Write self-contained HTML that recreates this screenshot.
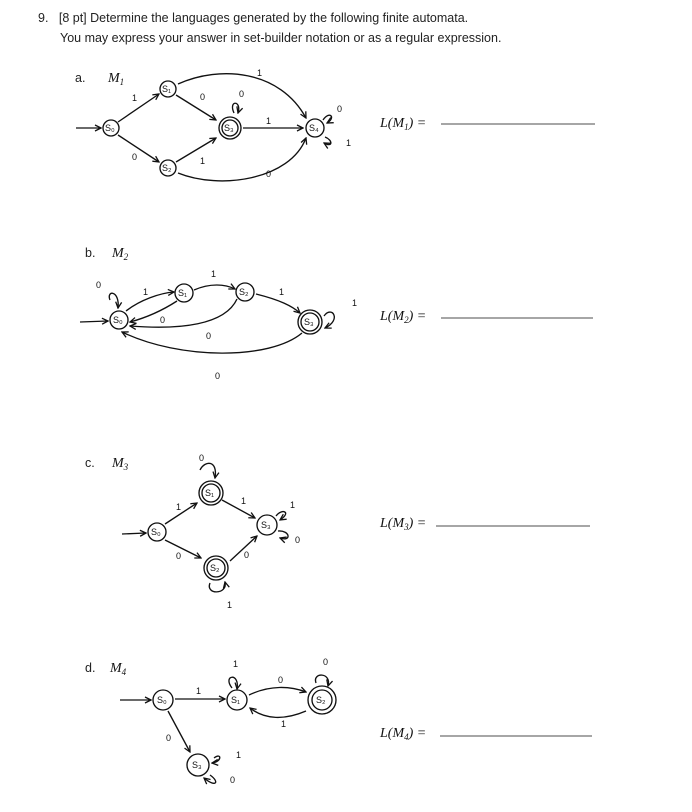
<!DOCTYPE html>
<html><head><meta charset="utf-8"><style>
body{margin:0;background:#fff;width:692px;height:812px;overflow:hidden}
svg{position:absolute;left:0;top:0}
.t{font-family:"Liberation Sans",sans-serif;font-size:12.5px;fill:#222}
.m{font-family:"Liberation Serif",serif;font-style:italic;font-size:14px;fill:#111}
.h{font-family:"Liberation Sans",sans-serif;font-size:9px;fill:#111}
.l{font-family:"Liberation Sans",sans-serif;font-size:9px;fill:#111}
</style></head><body>
<svg width="692" height="812" viewBox="0 0 692 812">
<defs><marker id="a" markerWidth="8" markerHeight="8" refX="7" refY="4" orient="auto" markerUnits="userSpaceOnUse"><path d="M1,1 L7,4 L1,7" fill="none" stroke="#111" stroke-width="1.3"/></marker></defs>
<text class="t" x="38" y="22">9.&#160;&#160;&#160;[8 pt] Determine the languages generated by the following finite automata.</text>
<text class="t" x="60" y="42">You may express your answer in set-builder notation or as a regular expression.</text>

<g fill="none" stroke="#111" stroke-width="1.35">
<!-- M1 -->
<circle cx="111" cy="128" r="8"/><circle cx="168" cy="89" r="8"/><circle cx="168" cy="168" r="8"/>
<circle cx="230" cy="128" r="8"/><circle cx="230" cy="128" r="11"/><circle cx="315" cy="128" r="9"/>
<path d="M76,128 L101,128" marker-end="url(#a)"/>
<path d="M118,122 L159,94" marker-end="url(#a)"/>
<path d="M118,135 L159,162" marker-end="url(#a)"/>
<path d="M176,95 L216,120" marker-end="url(#a)"/>
<path d="M176,162 L216,138" marker-end="url(#a)"/>
<path d="M243,128 L303,128" marker-end="url(#a)"/>
<path d="M178,84 C220,65 280,70 306,118" marker-end="url(#a)"/>
<path d="M178,173 C220,190 290,180 306,138" marker-end="url(#a)"/>
<path d="M234,113 C228,100 242,100 238,113" marker-end="url(#a)"/>
<path d="M323,120 C330,110 336,118 327,123" marker-end="url(#a)"/>
<path d="M325,137 C333,140 333,148 324,143" marker-end="url(#a)"/>
<!-- M2 -->
<circle cx="119" cy="320" r="9"/><circle cx="184" cy="293" r="9"/><circle cx="245" cy="292" r="9"/>
<circle cx="310" cy="322" r="9"/><circle cx="310" cy="322" r="12"/>
<path d="M80,322 L108,321" marker-end="url(#a)"/>
<path d="M126,311 C140,300 160,293 174,292" marker-end="url(#a)"/>
<path d="M194,290 C210,283 225,284 235,289" marker-end="url(#a)"/>
<path d="M256,294 C280,300 292,306 300,313" marker-end="url(#a)"/>
<path d="M177,301 C160,312 145,318 130,322" marker-end="url(#a)"/>
<path d="M237,299 C225,325 180,330 130,326" marker-end="url(#a)"/>
<path d="M302,333 C270,360 180,360 122,332" marker-end="url(#a)"/>
<path d="M110,300 C106,290 120,290 118,308" marker-end="url(#a)"/>
<path d="M324,316 C332,305 342,320 325,328" marker-end="url(#a)"/>
<!-- M3 -->
<circle cx="157" cy="532" r="9"/><circle cx="211" cy="493" r="9"/><circle cx="211" cy="493" r="12"/>
<circle cx="216" cy="568" r="9"/><circle cx="216" cy="568" r="12"/><circle cx="267" cy="525" r="10"/>
<path d="M122,534 L146,533" marker-end="url(#a)"/>
<path d="M165,524 L197,503" marker-end="url(#a)"/>
<path d="M165,540 L201,558" marker-end="url(#a)"/>
<path d="M222,500 L255,518" marker-end="url(#a)"/>
<path d="M230,561 L257,536" marker-end="url(#a)"/>
<path d="M200,470 C205,460 218,460 215,478" marker-end="url(#a)"/>
<path d="M210,583 C205,595 228,595 225,582" marker-end="url(#a)"/>
<path d="M276,516 C282,508 292,512 280,520" marker-end="url(#a)"/>
<path d="M278,531 C290,530 292,542 280,538" marker-end="url(#a)"/>
<!-- M4 -->
<circle cx="163" cy="700" r="10"/><circle cx="237" cy="700" r="10"/><circle cx="198" cy="765" r="11"/>
<circle cx="322" cy="700" r="10"/><circle cx="322" cy="700" r="14"/>
<path d="M120,700 L151,700" marker-end="url(#a)"/>
<path d="M175,699 L225,699" marker-end="url(#a)"/>
<path d="M168,711 L190,752" marker-end="url(#a)"/>
<path d="M249,695 C270,685 290,686 306,692" marker-end="url(#a)"/>
<path d="M306,711 C285,720 265,720 250,708" marker-end="url(#a)"/>
<path d="M232,688 C222,675 240,672 237,689" marker-end="url(#a)"/>
<path d="M316,683 C312,672 332,672 328,686" marker-end="url(#a)"/>
<path d="M214,758 C222,752 222,762 212,763" marker-end="url(#a)"/>
<path d="M210,775 C220,782 216,788 204,778" marker-end="url(#a)"/>
</g>

<g>
<text class="t" x="75" y="82">a.</text><text class="m" x="108" y="82">M<tspan font-size="9" dy="3">1</tspan></text>
<text class="h" x="105" y="131">S₀</text><text class="h" x="162" y="92">S₁</text><text class="h" x="162" y="171">S₂</text><text class="h" x="224" y="131">S₃</text><text class="h" x="309" y="131">S₄</text>
<text class="l" x="132" y="101">1</text><text class="l" x="132" y="160">0</text><text class="l" x="200" y="100">0</text><text class="l" x="200" y="164">1</text>
<text class="l" x="257" y="76">1</text><text class="l" x="266" y="124">1</text><text class="l" x="266" y="177">0</text><text class="l" x="239" y="97">0</text>
<text class="l" x="337" y="112">0</text><text class="l" x="346" y="146">1</text>
<text class="m" x="380" y="127">L(M<tspan font-size="9" dy="3">1</tspan><tspan dy="-3">)&#160;=</tspan></text>

<text class="t" x="85" y="257">b.</text><text class="m" x="112" y="257">M<tspan font-size="9" dy="3">2</tspan></text>
<text class="h" x="113" y="323">S₀</text><text class="h" x="178" y="296">S₁</text><text class="h" x="239" y="295">S₂</text><text class="h" x="304" y="325">S₃</text>
<text class="l" x="96" y="288">0</text><text class="l" x="143" y="295">1</text><text class="l" x="211" y="277">1</text><text class="l" x="279" y="295">1</text>
<text class="l" x="160" y="323">0</text><text class="l" x="206" y="339">0</text><text class="l" x="215" y="379">0</text><text class="l" x="352" y="306">1</text>
<text class="m" x="380" y="320">L(M<tspan font-size="9" dy="3">2</tspan><tspan dy="-3">)&#160;=</tspan></text>

<text class="t" x="85" y="467">c.</text><text class="m" x="112" y="467">M<tspan font-size="9" dy="3">3</tspan></text>
<text class="h" x="151" y="535">S₀</text><text class="h" x="205" y="496">S₁</text><text class="h" x="210" y="571">S₂</text><text class="h" x="261" y="528">S₃</text>
<text class="l" x="199" y="461">0</text><text class="l" x="176" y="510">1</text><text class="l" x="241" y="504">1</text><text class="l" x="176" y="559">0</text><text class="l" x="244" y="558">0</text>
<text class="l" x="290" y="508">1</text><text class="l" x="295" y="543">0</text><text class="l" x="227" y="608">1</text>
<text class="m" x="380" y="527">L(M<tspan font-size="9" dy="3">3</tspan><tspan dy="-3">)&#160;=</tspan></text>

<text class="t" x="85" y="672">d.</text><text class="m" x="110" y="672">M<tspan font-size="9" dy="3">4</tspan></text>
<text class="h" x="157" y="703">S₀</text><text class="h" x="231" y="703">S₁</text><text class="h" x="316" y="703">S₂</text><text class="h" x="192" y="768">S₃</text>
<text class="l" x="196" y="694">1</text><text class="l" x="233" y="667">1</text><text class="l" x="278" y="683">0</text><text class="l" x="281" y="727">1</text>
<text class="l" x="323" y="665">0</text><text class="l" x="166" y="741">0</text><text class="l" x="236" y="758">1</text><text class="l" x="230" y="783">0</text>
<text class="m" x="380" y="737">L(M<tspan font-size="9" dy="3">4</tspan><tspan dy="-3">)&#160;=</tspan></text>
</g>
<g stroke="#111" stroke-width="0.8">
<line x1="441" y1="124" x2="595" y2="124"/><line x1="441" y1="318" x2="593" y2="318"/>
<line x1="436" y1="526" x2="590" y2="526"/><line x1="440" y1="736" x2="592" y2="736"/>
</g>
</svg>
</body></html>
